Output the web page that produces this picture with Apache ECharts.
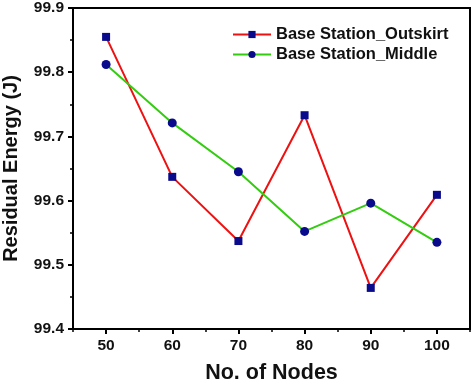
<!DOCTYPE html>
<html><head><meta charset="utf-8">
<script src="https://cdn.jsdelivr.net/npm/echarts@6/dist/echarts.min.js"></script>
<style>html,body{margin:0;padding:0;background:#fff}#c{width:474px;height:381px}</style>
</head><body><div id="c"></div>
<script>
const nodes = [50, 60, 70, 80, 90, 100];
const outskirt = [99.855, 99.637, 99.537, 99.733, 99.464, 99.609];
const middle = [99.812, 99.721, 99.645, 99.552, 99.596, 99.535];
const xMajorTicks = [50, 60, 70, 80, 90, 100];
const xMinorTicks = [45, 55, 65, 75, 85, 95, 105];
const seriesNames = ['Base Station_Outskirt', 'Base Station_Middle'];

const font = '"Liberation Sans", Arial, sans-serif';
const chart = echarts.init(document.getElementById('c'));
chart.setOption({
  animation: false,
  grid: { left: 73, right: 4, top: 8, bottom: 52, outerBoundsMode: 'none', containLabel: false, show: true, borderColor: '#000', borderWidth: 2, backgroundColor: 'transparent' },
  legend: {
    orient: 'vertical', left: 227, top: 21, itemWidth: 38, itemHeight: 9, itemGap: 3,
    textStyle: { fontFamily: font, fontWeight: 'bold', fontSize: 16.5, color: '#111' },
    data: seriesNames
  },
  xAxis: [{
    type: 'value', min: 45, max: 105,
    name: 'No. of Nodes', nameLocation: 'middle', nameGap: 33,
    nameTextStyle: { fontFamily: font, fontWeight: 'bold', fontSize: 21.5, color: '#111' },
    axisLine: { lineStyle: { color: '#000', width: 2 } },
    axisTick: { show: true, inside: false, length: 5, lineStyle: { width: 2, color: '#000' }, customValues: xMajorTicks },
    axisLabel: { fontFamily: font, fontWeight: 'bold', fontSize: 15.5, color: '#111', margin: 9, customValues: xMajorTicks },
    splitLine: { show: false }
  }, {
    type: 'value', min: 45, max: 105, position: 'bottom',
    axisLine: { show: false },
    axisTick: { show: true, length: 3, lineStyle: { width: 1.5, color: '#000' }, customValues: xMinorTicks },
    axisLabel: { show: false, customValues: xMinorTicks },
    splitLine: { show: false }
  }],
  yAxis: {
    type: 'value', min: 99.4, max: 99.9, interval: 0.1,
    name: 'Residual Energy (J)', nameLocation: 'middle', nameGap: 52,
    nameTextStyle: { fontFamily: font, fontWeight: 'bold', fontSize: 20, color: '#111' },
    axisLine: { show: true, lineStyle: { color: '#000', width: 2 } },
    axisTick: { show: true, length: 5, lineStyle: { width: 2, color: '#000' } },
    minorTick: { show: true, splitNumber: 2, length: 3, lineStyle: { width: 1.5, color: '#000' } },
    axisLabel: { fontFamily: font, fontWeight: 'bold', fontSize: 15.5, color: '#111', margin: 9,
      formatter: v => v.toFixed(1) },
    splitLine: { show: false }
  },
  series: [{
    name: seriesNames[0], type: 'line', xAxisIndex: 0,
    data: nodes.map((n, i) => [n, outskirt[i]]),
    symbol: 'rect', symbolSize: 8,
    lineStyle: { color: '#ee1111', width: 2 },
    itemStyle: { color: '#0a0a8c' }
  }, {
    name: seriesNames[1], type: 'line', xAxisIndex: 0,
    data: nodes.map((n, i) => [n, middle[i]]),
    symbol: 'circle', symbolSize: 9,
    lineStyle: { color: '#33cc11', width: 2 },
    itemStyle: { color: '#0a0a8c' }
  }]
});
</script></body></html>
